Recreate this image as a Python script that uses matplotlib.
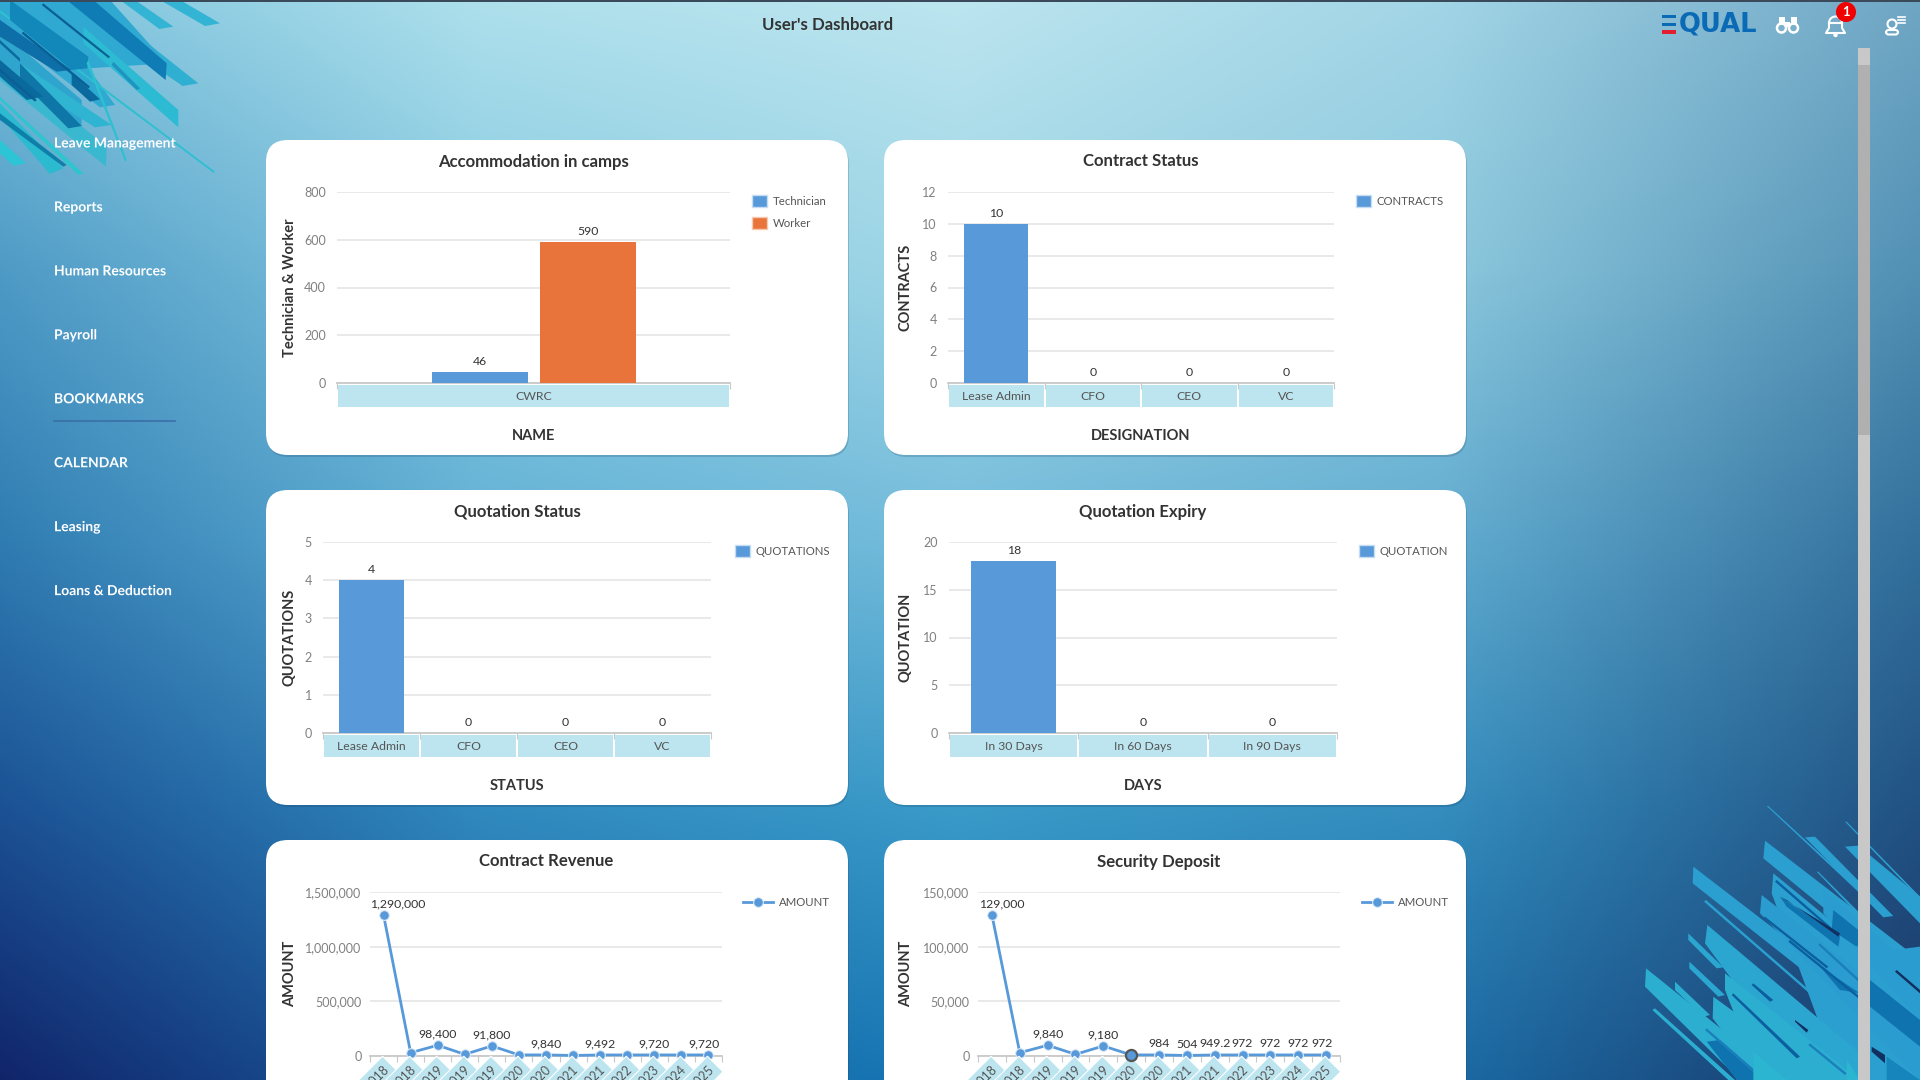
# -*- coding: utf-8 -*-
import numpy as np
import matplotlib
matplotlib.use('Agg')
import matplotlib.pyplot as plt
import matplotlib.patheffects as pe
from matplotlib.lines import Line2D
from matplotlib.patches import Circle, FancyBboxPatch, Patch, Polygon, Rectangle, Wedge

plt.rcParams['font.family'] = ['Lato', 'DejaVu Sans']

W = 1920
H = 1080

# data
menu_items = ['Leave Management', 'Reports', 'Human Resources', 'Payroll',
              'BOOKMARKS', 'CALENDAR', 'Leasing', 'Loans & Deduction']

camp_names = ['CWRC']
technicians = [46]
workers = [590]

designations = ['Lease Admin', 'CFO', 'CEO', 'VC']
contracts = [10, 0, 0, 0]

statuses = ['Lease Admin', 'CFO', 'CEO', 'VC']
quotations = [4, 0, 0, 0]

expiry_days = ['In 30 Days', 'In 60 Days', 'In 90 Days']
expiry_counts = [18, 0, 0]

years = ['2018', '2018', '2019', '2019', '2019', '2020', '2020',
         '2021', '2021', '2022', '2023', '2024', '2025']
revenue = [1290000, 30000, 98400, 15000, 91800, 9840, 9840,
           5040, 9492, 9720, 9720, 9720, 9720]
revenue_shown = [0, 2, 4, 6, 8, 10, 12]
deposit = [129000, 3000, 9840, 1500, 9180, 984, 984,
           504, 949.2, 972, 972, 972, 972]
deposit_shown = [0, 2, 4, 6, 7, 8, 9, 10, 11, 12]

BLUE = '#5899DA'
ORANGE = '#E8743B'
STRIP = '#BDE5EF'
DARK = '#333333'
GREY = '#808080'

bg_grid = ['#7CC2DC #AEE0EC #BCE5EF #A2D5E6 #6FA6C4',
           '#4E9AC6 #86C9E0 #A0D6E6 #8CC8DD #5290B4',
           '#2F7CB2 #62B1D6 #74BCDB #62ACD0 #33709C',
           '#1B5194 #3089BE #3A9AC8 #348DBE #215283',
           '#11246A #1A5FA0 #1678B5 #1B6BA5 #1A3565']

fig = plt.figure(figsize=(W / 100, H / 100), dpi=100)

# whole page in pixel coordinates, y going down like the screenshot
bg = fig.add_axes([0, 0, 1, 1], zorder=0)
rows = [[matplotlib.colors.to_rgb(c) for c in r.split()] for r in bg_grid]
bg.imshow(np.array(rows), extent=(-240, 2160, 1215, -135), aspect='auto',
          interpolation='bilinear')
bg.set_xlim(0, W)
bg.set_ylim(H, 0)
bg.axis('off')


def streaks(shapes, ox, oy):
    # shapes were traced on 3x crops of the screenshot
    for color, pts in shapes:
        xy = [(ox + x / 3, oy + y / 3) for x, y in pts]
        bg.add_patch(Polygon(xy, closed=True, fc=color, ec='none'))


top_left = [
    ('#33B4D4', [(540, 0), (660, 70), (615, 78), (480, 0)]),
    ('#33B4D4', [(405, 0), (520, 80), (478, 87), (360, 0)]),
    ('#2FB0D2', [(280, 0), (595, 250), (548, 258), (170, 0)]),
    ('#2FA9D2', [(0, 0), (330, 0), (500, 190), (265, 205), (345, 315), (300, 322), (0, 90)]),
    ('#2FA5CE', [(0, 90), (245, 300), (245, 378), (205, 385), (0, 230)]),
    ('#2CBBD2', [(250, 80), (535, 330), (535, 382), (250, 130)]),
    ('#2CC0D0', [(0, 30), (645, 515), (640, 518), (0, 38)]),
    ('#2FB5D2', [(60, 190), (335, 375), (285, 382), (60, 240)]),
    ('#3AB8D0', [(0, 180), (320, 440), (318, 500), (0, 240)]),
    ('#2FC5D0', [(0, 290), (250, 520), (235, 525), (0, 300)]),
    ('#2BBACF', [(0, 310), (190, 505), (150, 522), (0, 350)]),
    ('#2CC5D5', [(0, 420), (78, 490), (40, 497), (0, 460)]),
    ('#0F7CB5', [(280, 0), (500, 190), (497, 240), (200, 0)]),
    ('#1287BA', [(30, 0), (265, 170), (262, 205), (215, 210), (30, 60)]),
    ('#0D6EA8', [(0, 60), (215, 210), (170, 215), (0, 110)]),
    ('#0F76A8', [(60, 190), (245, 378), (205, 385), (60, 240)]),
    ('#0A6A9E', [(0, 180), (130, 290), (80, 300), (0, 230)]),
    ('#0A6A9E', [(215, 220), (300, 298), (270, 305), (215, 255)]),
    ('#0E7FA8', [(0, 340), (200, 495), (190, 500), (0, 360)]),
    ('#0A5F94', [(0, 205), (110, 300), (105, 305), (0, 215)]),
    ('#0A5F94', [(130, 10), (330, 170), (326, 175), (125, 15)]),
    ('#0A5F94', [(70, 95), (270, 260), (265, 265), (65, 100)]),
    ('#0A6A9E', [(0, 120), (60, 175), (60, 185), (0, 130)]),
    ('#2CC0D0', [(265, 180), (380, 480), (375, 484), (260, 190)]),
    ('#1F93C0', [(340, 185), (420, 265), (410, 270), (335, 195)]),
]
streaks(top_left, 0, 0)

bottom_right = [
    ('#2B9FD0', [(220, 260), (610, 560), (560, 580), (218, 310)]),
    ('#2B9FD0', [(555, 172), (585, 170), (820, 408), (790, 412)]),
    ('#2B9FD0', [(675, 200), (715, 197), (900, 350), (900, 430)]),
    ('#2B9FD0', [(435, 182), (900, 540), (900, 620), (430, 235)]),
    ('#2B9FD0', [(460, 280), (900, 640), (900, 900), (660, 900), (455, 340)]),
    ('#2A9CCF', [(425, 345), (900, 720), (900, 900), (420, 400)]),
    ('#2A9CCF', [(610, 330), (820, 510), (900, 500), (900, 720), (610, 400)]),
    ('#2BA6D0', [(262, 435), (720, 820), (720, 900), (560, 900), (255, 490)]),
    ('#2BA6D0', [(205, 460), (310, 562), (290, 565), (205, 480)]),
    ('#2BA6D0', [(208, 545), (315, 645), (295, 650), (208, 565)]),
    ('#2CAED0', [(315, 580), (720, 900), (420, 900), (315, 630)]),
    ('#2CAED0', [(280, 650), (620, 900), (420, 900), (278, 715)]),
    ('#2CAED0', [(165, 605), (270, 705), (250, 710), (165, 630)]),
    ('#2CAED0', [(78, 565), (370, 800), (500, 900), (360, 900), (75, 620)]),
    ('#2CAED0', [(97, 690), (105, 685), (345, 900), (325, 900)]),
    ('#2B9FD0', [(440, 78), (445, 78), (730, 340), (725, 345)]),
    ('#2B9FD0', [(675, 125), (680, 125), (900, 350), (900, 358)]),
    ('#2B9FD0', [(590, 275), (595, 275), (720, 400), (715, 405)]),
    ('#2B9FD0', [(252, 365), (258, 360), (625, 680), (620, 685)]),
    ('#0F73B0', [(640, 390), (740, 470), (710, 500), (635, 450)]),
    ('#0F73B0', [(480, 350), (660, 470), (655, 500), (500, 380)]),
    ('#0F73B0', [(600, 560), (720, 640), (660, 630)]),
    ('#0F73B0', [(750, 600), (900, 720), (900, 800), (750, 680)]),
    ('#0F73B0', [(260, 785), (300, 780), (415, 880), (415, 900), (350, 900)]),
    ('#1585BC', [(800, 830), (900, 900), (800, 900)]),
    ('#0B5F9E', [(510, 480), (720, 650), (715, 655), (505, 485)]),
    ('#0B5F9E', [(435, 410), (625, 560), (620, 565), (430, 415)]),
    ('#0B5F9E', [(400, 610), (460, 660), (450, 665), (395, 615)]),
    ('#0B5F9E', [(340, 640), (540, 830), (530, 835), (335, 645)]),
    ('#0B5F9E', [(470, 300), (660, 465), (655, 470), (465, 305)]),
    ('#1A7FBB', [(600, 490), (720, 600), (715, 605), (595, 495)]),
    ('#1A7FBB', [(260, 745), (420, 885), (415, 890), (255, 750)]),
    ('#1A7FBB', [(570, 790), (680, 880), (675, 885), (565, 795)]),
    ('#12305F', [(830, 570), (900, 630), (900, 640), (825, 575)]),
    ('#12305F', [(525, 720), (565, 750), (560, 758), (525, 725)]),
    ('#12305F', [(755, 800), (795, 825), (795, 850), (755, 815)]),
    ('#12305F', [(480, 350), (660, 460), (655, 470), (500, 360)]),
    ('#2CB5D0', [(400, 815), (500, 900), (400, 900)]),
    ('#2CB5D0', [(680, 840), (720, 900), (680, 900)]),
]
streaks(bottom_right, 1620, 780)

# scrollbar and top edge
bg.add_patch(Rectangle((1858, 48), 12, H - 48, fc='#C8C8C8', ec='none'))
bg.add_patch(Rectangle((1858, 65), 12, 370, fc='#B0B0B0', ec='none'))
bg.add_patch(Rectangle((0, 0), W, 1.5, fc='#3A4A5A', ec='none'))

# header
bg.text(828, 25.5, "User's Dashboard", fontsize=12.1, fontweight='bold', color=DARK,
        ha='center', va='center')
for y, h, c in [(15, 2.5, '#0A6AB5'), (23, 2.5, '#0A6AB5'), (30, 3.5, '#E0202E')]:
    bg.add_patch(Rectangle((1662, y), 14, h, fc=c, ec='none'))
bg.text(1679, 24.5, 'QUAL', fontsize=18.6, fontweight='bold', color='#0A6AB5',
        family=['DejaVu Sans'], ha='left', va='center')

# binoculars
for cx in (1781.5, 1793.5):
    bg.add_patch(Circle((cx, 28), 4.5, fc='none', ec='white', lw=1.8))
    bg.add_patch(Rectangle((cx - 3, 17), 6, 8, fc='white', ec='none'))
bg.add_patch(Rectangle((1785, 22), 5, 5, fc='white', ec='none'))
# bell
bg.add_patch(Wedge((1835.5, 23), 6.5, 180, 360, fc='none', ec='white', lw=1.5))
bg.plot([1829, 1829, 1826, 1845, 1842, 1842], [23, 28, 33, 33, 28, 23], color='white', lw=1.5)
bg.add_patch(Circle((1835.5, 35), 2.2, fc='white', ec='none'))
bg.add_patch(Circle((1846, 12), 10, fc='#F00000', ec='none'))
bg.text(1846, 12, '1', fontsize=9.5, fontweight='bold', color='white', ha='center', va='center')
# user
bg.add_patch(Circle((1892, 24), 4.5, fc='none', ec='white', lw=1.5))
bg.add_patch(FancyBboxPatch((1886, 30), 12, 4.5, boxstyle='round,pad=0,rounding_size=2.5',
                            fc='none', ec='white', lw=1.5))
for y in (16.5, 19.5, 22.5):
    bg.plot([1898, 1905], [y, y], color='white', lw=1.2)

# side menu
for i, item in enumerate(menu_items):
    t = bg.text(54, 143.5 + i * 63.95, item, fontsize=10, fontweight='bold', color='white',
                ha='left', va='center')
    t.set_path_effects([pe.SimpleLineShadow(offset=(0.6, -0.8), shadow_color='#20405a', alpha=0.5),
                        pe.Normal()])
bg.plot([54, 175], [420.5, 420.5], color='#3A6EA8', lw=1.2)


def make_card(x0, y0, w, h):
    bg.add_patch(FancyBboxPatch((x0 + 1, y0 + 2), w, h, boxstyle='round,pad=0,rounding_size=22',
                                fc='#103050', ec='none', alpha=0.18))
    bg.add_patch(FancyBboxPatch((x0, y0), w, h, boxstyle='round,pad=0,rounding_size=22',
                                fc='white', ec='none'))


def make_axes(left, right, top, bottom, pad):
    ax = fig.add_axes([left / W, 1 - bottom / H, (right - left) / W, (bottom - top) / H], zorder=1)
    ax.patch.set_alpha(0)
    for s in ('top', 'right', 'left'):
        ax.spines[s].set_visible(False)
    ax.spines['bottom'].set_color('#C8C8C8')
    ax.spines['bottom'].set_linewidth(1.3)
    ax.grid(axis='y', color='#E5E5E5', lw=1.2)
    ax.set_axisbelow(True)
    ax.tick_params(axis='y', length=0, labelsize=9, labelcolor=GREY, pad=pad)
    ax.tick_params(axis='x', length=4, color='#C8C8C8', labelbottom=False)
    return ax


def add_titles(left, right, top, bottom, title, ylabel, xlabel, ylabel_x):
    cx = (left + right) / 2
    bg.text(cx, top - 30.5, title, fontsize=12.1, fontweight='bold', color=DARK,
            ha='center', va='center')
    bg.text(ylabel_x, (top + bottom) / 2, ylabel, fontsize=10.5, fontweight='bold', color=DARK,
            ha='center', va='center', rotation=90)
    if xlabel:
        bg.text(cx, bottom + 52.5, xlabel, fontsize=10.5, fontweight='bold', color=DARK,
                ha='center', va='center')


def bar_chart(left, right, top, bottom, names, series, colors, yticks, title, ylabel, xlabel,
              ylabel_x, legend_x, width, offsets):
    ax = make_axes(left, right, top, bottom, 8)
    for vals, c, off in zip(series, colors, offsets):
        xs = np.arange(len(vals)) + off
        ax.bar(xs, vals, width=width, color=c, zorder=3)
        for x, v in zip(xs, vals):
            ax.annotate(str(v), (x, v), xytext=(0, 3.6), textcoords='offset points', ha='center',
                        va='bottom', fontsize=8.8, color=DARK)
    ax.set_xlim(-0.5, len(names) - 0.5)
    ax.set_ylim(yticks[0], yticks[-1])
    ax.set_yticks(yticks)
    ax.set_xticks(np.arange(len(names) + 1) - 0.5)
    # category strip under the axis, 1 px short of each tick
    trans = ax.get_xaxis_transform()
    h = bottom - top
    m = 1.0 / ((right - left) / len(names))
    for i, n in enumerate(names):
        ax.add_patch(Rectangle((i - 0.5 + m, -24 / h), 1 - 2 * m, 22 / h, transform=trans, fc=STRIP,
                               ec='none', clip_on=False, zorder=2))
        ax.text(i, -13.5 / h, n, transform=trans, ha='center', va='center', fontsize=8.8, color='#555555')
    add_titles(left, right, top, bottom, title, ylabel, xlabel, ylabel_x)
    handles = [Patch(fc=c, ec='#C5DCF2' if c == BLUE else '#F5C8B0', label=l)
               for c, l in zip(colors, legend_labels[title])]
    ax.legend(handles=handles, loc='upper left', bbox_to_anchor=(legend_x, top + 3), bbox_transform=bg.transData,
              frameon=False, fontsize=8.2, borderpad=0, borderaxespad=0, handlelength=1.3,
              handleheight=1.3, handletextpad=0.5, labelspacing=0.8, labelcolor='#555555')
    return ax


def line_chart(left, right, top, bottom, values, shown, yticks, title, legend_x, ylabel_x, first_dx):
    ax = make_axes(left, right, top, bottom, 6)
    xs = np.arange(len(values))
    ax.plot(xs, values, color=BLUE, lw=2.0, marker='o', ms=7, mec='#DCEAF8', mew=0.8,
            zorder=3, clip_on=False)
    for i in shown:
        dx = first_dx if i == 0 else (-3 if i == len(values) - 1 else 0)
        ax.annotate(f'{values[i]:,}', (i, values[i]), xytext=(dx, 4), textcoords='offset points',
                    ha='center', va='bottom', fontsize=8.8, color=DARK)
    ax.set_xlim(-0.5, len(values) - 0.5)
    ax.set_ylim(yticks[0], yticks[-1])
    ax.set_yticks(yticks)
    ax.set_yticklabels([f'{v:,}' for v in yticks])
    ax.set_xticks(np.arange(len(values) + 1) - 0.5)
    trans = ax.get_xaxis_transform()
    h = bottom - top
    for i, y in enumerate(years):
        ax.text(i + 0.12, -11.5 / h, y, transform=trans, rotation=45, rotation_mode='anchor',
                ha='right', va='center', fontsize=9, color='#555555', clip_on=False,
                bbox=dict(fc=STRIP, ec='white', lw=0.8, boxstyle='square,pad=0.4'))
    add_titles(left, right, top, bottom, title, 'AMOUNT', None, ylabel_x)
    handles = [Line2D([], [], color=BLUE, lw=2, marker='o', ms=7, mec='#DCEAF8', mew=0.8, label='AMOUNT')]
    ax.legend(handles=handles, loc='upper left', bbox_to_anchor=(legend_x, top + 5), bbox_transform=bg.transData,
              frameon=False, fontsize=8.2, borderpad=0, borderaxespad=0, handlelength=2.6,
              handletextpad=0.55, labelcolor='#555555')
    return ax


legend_labels = {'Accommodation in camps': ['Technician', 'Worker'],
                 'Contract Status': ['CONTRACTS'],
                 'Quotation Status': ['QUOTATIONS'],
                 'Quotation Expiry': ['QUOTATION']}

for cx0 in (266, 884):
    for cy0 in (140, 490, 840):
        make_card(cx0, cy0, 582, 315)

bar_chart(337, 730, 192, 383, camp_names, [technicians, workers], [BLUE, ORANGE], [0, 200, 400, 600, 800],
          'Accommodation in camps', 'Technician & Worker', 'NAME', 290, 752, 0.243, [-0.1355, 0.1386])
bar_chart(948, 1334, 192, 383, designations, [contracts], [BLUE], [0, 2, 4, 6, 8, 10, 12],
          'Contract Status', 'CONTRACTS', 'DESIGNATION', 906, 1356, 0.66, [0])
bar_chart(323, 711, 542, 733, statuses, [quotations], [BLUE], [0, 1, 2, 3, 4, 5],
          'Quotation Status', 'QUOTATIONS', 'STATUS', 290, 735, 0.66, [0])
bar_chart(949, 1337, 542, 733, expiry_days, [expiry_counts], [BLUE], [0, 5, 10, 15, 20],
          'Quotation Expiry', 'QUOTATION', 'DAYS', 906, 1359, 0.66, [0])

line_chart(370, 722, 892, 1056, revenue, revenue_shown, [0, 500000, 1000000, 1500000],
           'Contract Revenue', 743, 290, 10)
ax6 = line_chart(978, 1340, 892, 1056, deposit, deposit_shown, [0, 50000, 100000, 150000],
                 'Security Deposit', 1362, 906, 7)
# hovered point
ax6.plot([5], [deposit[5]], marker='o', ms=8, mfc=BLUE, mec='#555555', mew=1.6, zorder=4, clip_on=False)

fig.savefig('out.png', dpi=100)
